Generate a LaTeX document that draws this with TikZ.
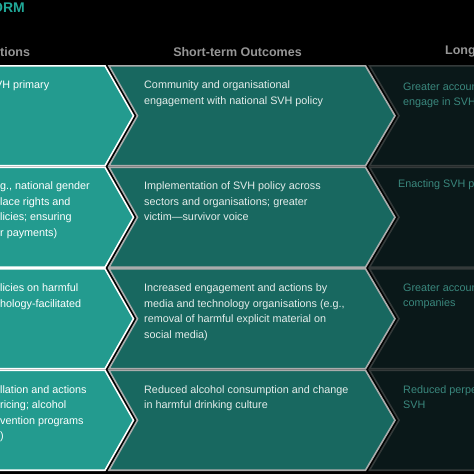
\documentclass[tikz,border=0pt]{standalone}
\usepackage{fontspec}
\setmainfont{Liberation Sans}
\usepackage{tikz}
\definecolor{svh_teal}{RGB}{35, 155, 143}
\definecolor{svh_green}{RGB}{24, 104, 96}
\definecolor{svh_dark}{RGB}{10, 24, 25}
\definecolor{svh_grey}{RGB}{170, 172, 172}
\definecolor{svh_edge}{RGB}{52, 58, 58}
\definecolor{svh_head}{RGB}{150, 150, 150}
\definecolor{svh_title}{RGB}{32, 168, 152}
\definecolor{svh_dim}{RGB}{58, 135, 125}
\definecolor{svh_text}{RGB}{228, 236, 234}
\tikzstyle{actbox}=[fill=svh_teal,draw=white,line width=1.6pt]
\tikzstyle{shortbox}=[fill=svh_green,draw=svh_grey,line width=1.6pt]
\tikzstyle{longbox}=[fill=svh_dark,draw=svh_edge,line width=1.6pt]
\tikzstyle{txt}=[anchor=north west,inner sep=0pt,align=left,
  font=\fontsize{10.8}{15.5}\selectfont]
\tikzstyle{hd}=[inner sep=0pt,text=svh_head,font=\fontsize{12.5}{14}\selectfont\bfseries]

\begin{document}
\begin{tikzpicture}[x=1pt,y=-1pt]
    \fill[black] (0,0) rectangle (474,474);
    \useasboundingbox (0,0) rectangle (474,474);
    \node [inner sep=0pt,anchor=east,text=svh_title,font=\fontsize{14}{16}\selectfont\bfseries] (title) at (25,8) {ORM};
    \node [style=hd,anchor=west] (acthead) at (0,52) {tions};
    \node [style=hd] (shorthead) at (237.5,52) {Short-term Outcomes};
    \node [style=hd,anchor=west] (longhead) at (445,52) {Long};
    % row 1
    \draw [style=longbox] (369.5,65.8) -- (480,65.8) -- (480,165.7) -- (369.5,165.7) -- (399,115.75) -- cycle;
    \draw [style=shortbox] (109,65.8) -- (365.5,65.8) -- (395,115.75) -- (365.5,165.7) -- (109,165.7) -- (137.5,115.75) -- cycle;
    \draw [style=actbox] (-5,65.8) -- (105,65.8) -- (133.5,115.75) -- (105,165.7) -- (-5,165.7) -- cycle;
    % row 2
    \draw [style=longbox] (369.5,167.3) -- (480,167.3) -- (480,267.2) -- (369.5,267.2) -- (399,217.25) -- cycle;
    \draw [style=shortbox] (109,167.3) -- (365.5,167.3) -- (395,217.25) -- (365.5,267.2) -- (109,267.2) -- (137.5,217.25) -- cycle;
    \draw [style=actbox] (-5,167.3) -- (105,167.3) -- (133.5,217.25) -- (105,267.2) -- (-5,267.2) -- cycle;
    % row 3
    \draw [style=longbox] (369.5,268.8) -- (480,268.8) -- (480,368.7) -- (369.5,368.7) -- (399,318.75) -- cycle;
    \draw [style=shortbox] (109,268.8) -- (365.5,268.8) -- (395,318.75) -- (365.5,368.7) -- (109,368.7) -- (137.5,318.75) -- cycle;
    \draw [style=actbox] (-5,268.8) -- (105,268.8) -- (133.5,318.75) -- (105,368.7) -- (-5,368.7) -- cycle;
    % row 4
    \draw [style=longbox] (369.5,370.3) -- (480,370.3) -- (480,470.2) -- (369.5,470.2) -- (399,420.25) -- cycle;
    \draw [style=shortbox] (109,370.3) -- (365.5,370.3) -- (395,420.25) -- (365.5,470.2) -- (109,470.2) -- (137.5,420.25) -- cycle;
    \draw [style=actbox] (-5,370.3) -- (105,370.3) -- (133.5,420.25) -- (105,470.2) -- (-5,470.2) -- cycle;
    % texts
    \node [style=txt,text=white] (act1) at (-5,80.5) {VH primary};
    \node [style=txt,text=white] (act2) at (0,181.5) {g., national gender\\lace rights and\\licies; ensuring\\r payments)};
    \node [style=txt,text=white] (act3) at (0,283.5) {licies on harmful\\hology-facilitated};
    \node [style=txt,text=white] (act4) at (0,385) {llation and actions\\ricing; alcohol\\vention programs\\)};
    \node [style=txt,text=svh_text] (short1) at (144,80.5) {Community and organisational\\engagement with national SVH policy};
    \node [style=txt,text=svh_text] (short2) at (144,181.5) {Implementation of SVH policy across\\sectors and organisations; greater\\victim—survivor voice};
    \node [style=txt,text=svh_text] (short3) at (144,283.5) {Increased engagement and actions by\\media and technology organisations (e.g.,\\removal of harmful explicit material on\\social media)};
    \node [style=txt,text=svh_text] (short4) at (144,385) {Reduced alcohol consumption and change\\in harmful drinking culture};
    \node [style=txt,text=svh_dim] (long1) at (403,82.5) {Greater accoun\\engage in SVH};
    \node [style=txt,text=svh_dim] (long2) at (398,179.5) {Enacting SVH p};
    \node [style=txt,text=svh_dim] (long3) at (403,283.5) {Greater accoun\\companies};
    \node [style=txt,text=svh_dim] (long4) at (403,385) {Reduced perpet\\SVH};
  \end{tikzpicture}
\end{document}
